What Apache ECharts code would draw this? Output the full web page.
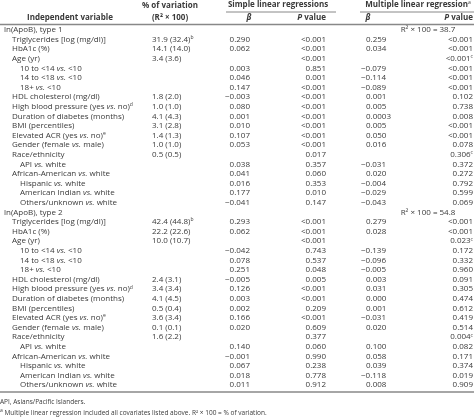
<!DOCTYPE html>
<html>
<head>
<meta charset="utf-8">
<script src="https://cdn.jsdelivr.net/npm/echarts@6/dist/echarts.min.js"></script>
<style>html,body{margin:0;padding:0;background:#fff}#main{width:474px;height:418px}</style>
</head>
<body>
<div id="main"></div>
<script>
// row labels, indent level
var labels = [
    'ln(ApoB), type 1', 'Triglycerides [log (mg/dl)]', 'HbA1c (%)', 'Age (yr)',
    '10 to <14 {i|vs.} <10', '14 to <18 {i|vs.} <10', '18+ {i|vs.} <10',
    'HDL cholesterol (mg/dl)', 'High blood pressure (yes {i|vs.} no){s|d}', 'Duration of diabetes (months)',
    'BMI (percentiles)', 'Elevated ACR (yes {i|vs.} no){s|e}', 'Gender (female {i|vs.} male)', 'Race/ethnicity',
    'API {i|vs.} white', 'African-American {i|vs.} white', 'Hispanic {i|vs.} white',
    'American Indian {i|vs.} white', 'Others/unknown {i|vs.} white',
    'ln(ApoB), type 2', 'Triglycerides [log (mg/dl)]', 'HbA1c (%)', 'Age (yr)',
    '10 to <14 {i|vs.} <10', '14 to <18 {i|vs.} <10', '18+ {i|vs.} <10',
    'HDL cholesterol (mg/dl)', 'High blood pressure (yes {i|vs.} no){s|d}', 'Duration of diabetes (months)',
    'BMI (percentiles)', 'Elevated ACR (yes {i|vs.} no){s|e}', 'Gender (female {i|vs.} male)', 'Race/ethnicity',
    'API {i|vs.} white', 'African-American {i|vs.} white', 'Hispanic {i|vs.} white',
    'American Indian {i|vs.} white', 'Others/unknown {i|vs.} white'
];
var levels = [0,1,1,1,2,2,2,1,1,1,1,1,1,1,2,1,2,2,2, 0,1,1,1,2,2,2,1,1,1,1,1,1,1,2,1,2,2,2];
var pctVar = ['', '31.9 (32.4){s|b}', '14.1 (14.0)', '3.4 (3.6)', '', '', '', '1.8 (2.0)', '1.0 (1.0)', '4.1 (4.3)',
    '3.1 (2.8)', '1.4 (1.3)', '1.0 (1.0)', '0.5 (0.5)', '', '', '', '', '',
    '', '42.4 (44.8){s|b}', '22.2 (22.6)', '10.0 (10.7)', '', '', '', '2.4 (3.1)', '3.4 (3.4)', '4.1 (4.5)',
    '0.5 (0.4)', '3.6 (3.4)', '0.1 (0.1)', '1.6 (2.2)', '', '', '', '', ''];
var betaSimple = ['', '0.290', '0.062', '', '0.003', '0.046', '0.147', '−0.003', '0.080', '0.001',
    '0.010', '0.107', '0.053', '', '0.038', '0.041', '0.016', '0.177', '−0.041',
    '', '0.293', '0.062', '', '−0.042', '0.078', '0.251', '−0.005', '0.126', '0.003',
    '0.002', '0.166', '0.020', '', '0.140', '−0.001', '0.067', '0.018', '0.011'];
var pSimple = ['', '<0.001', '<0.001', '<0.001', '0.851', '0.001', '<0.001', '<0.001', '<0.001', '<0.001',
    '<0.001', '<0.001', '<0.001', '0.017', '0.357', '0.060', '0.353', '0.010', '0.147',
    '', '<0.001', '<0.001', '<0.001', '0.743', '0.537', '0.048', '0.005', '<0.001', '<0.001',
    '0.209', '<0.001', '0.609', '0.377', '0.060', '0.990', '0.238', '0.778', '0.912'];
var betaMultiple = ['', '0.259', '0.034', '', '−0.079', '−0.114', '−0.089', '0.001', '0.005', '0.0003',
    '0.005', '0.050', '0.016', '', '−0.031', '0.020', '−0.004', '−0.029', '−0.043',
    '', '0.279', '0.028', '', '−0.139', '−0.096', '−0.005', '0.003', '0.031', '0.000',
    '0.001', '−0.031', '0.020', '', '0.100', '0.058', '0.039', '−0.118', '0.008'];
var pMultiple = ['R² × 100 = 38.7', '<0.001', '<0.001', '<0.001{s|c}', '<0.001', '<0.001', '<0.001', '0.102', '0.738', '0.008',
    '<0.001', '<0.001', '0.078', '0.306{s|c}', '0.372', '0.272', '0.792', '0.599', '0.069',
    'R² × 100 = 54.8', '<0.001', '<0.001', '0.023{s|c}', '0.172', '0.332', '0.960', '0.091', '0.305', '0.474',
    '0.612', '0.419', '0.514', '0.004{s|c}', '0.082', '0.171', '0.374', '0.019', '0.909'];
var footnotes = ['API, Asians/Pacific Islanders.',
    '{s|a} Multiple linear regression included all covariates listed above. R² × 100 = % of variation.'];

var FONT = '"Open Sans", sans-serif';
var COLOR = '#3a3a3a';
var rich = {
    i: { fontStyle: 'italic', fontSize: 8, fontFamily: FONT, fill: COLOR },
    bi: { fontStyle: 'italic', fontWeight: 'bold', fontSize: 8, fontFamily: FONT, fill: COLOR },
    s: { fontSize: 5, verticalAlign: 'top', padding: [0, 0, 4, 0], fontFamily: FONT, fill: COLOR }
};

function txt(x, y, s, align, extra) {
    var st = { text: s, x: 0, y: 0, fontSize: 8, fontFamily: FONT, fill: COLOR,
        align: align || 'left', verticalAlign: 'middle', rich: rich };
    if (extra) for (var k in extra) st[k] = extra[k];
    return { type: 'text', x: x, y: y, style: st };
}
function hline(x1, x2, y, w, c) {
    return { type: 'line', shape: { x1: x1, y1: y, x2: x2, y2: y }, style: { stroke: c || '#777', lineWidth: w || 1 } };
}

var els = [];
// header
els.push(txt(170, 6, '% of variation', 'center', { fontWeight: 'bold' }));
els.push(txt(170, 18, '(R² × 100)', 'center', { fontWeight: 'bold' }));
els.push(txt(70, 18, 'Independent variable', 'center', { fontWeight: 'bold' }));
els.push(txt(278, 5, 'Simple linear regressions', 'center', { fontWeight: 'bold' }));
els.push(txt(418, 5, 'Multiple linear regression{s|a}', 'center', { fontWeight: 'bold' }));
els.push(hline(226, 336, 12, 1, '#888'));
els.push(hline(360, 474, 12, 1, '#888'));
els.push(txt(249, 18, 'β', 'center', { fontWeight: 'bold', fontStyle: 'italic' }));
els.push(txt(326, 18, '{bi|P} value', 'right', { fontWeight: 'bold' }));
els.push(txt(368, 18, 'β', 'center', { fontWeight: 'bold', fontStyle: 'italic' }));
els.push(txt(473, 18, '{bi|P} value', 'right', { fontWeight: 'bold' }));
els.push(hline(0, 474, 24.5, 1.5, '#888'));

var y0 = 30, dy = 9.6;
labels.forEach(function (lab, i) {
    var y = y0 + i * dy;
    els.push(txt(4 + levels[i] * 8, y, lab, 'left'));
    if (pctVar[i]) els.push(txt(152, y, pctVar[i], 'left'));
    if (betaSimple[i]) els.push(txt(250, y, betaSimple[i], 'right'));
    if (pSimple[i]) els.push(txt(326, y, pSimple[i], 'right'));
    if (betaMultiple[i]) els.push(txt(betaMultiple[i].charAt(0) === '−' ? 361 : 366, y, betaMultiple[i], 'left'));
    if (pMultiple[i]) {
        if (pMultiple[i].indexOf('R²') === 0) els.push(txt(428, y, pMultiple[i], 'center'));
        else els.push(txt(473, y, pMultiple[i], 'right'));
    }
});
els.push(hline(0, 474, 392, 1.5, '#888'));
els.push(txt(0, 402, footnotes[0], 'left', { fontSize: 6.5 }));
els.push(txt(0, 413, footnotes[1], 'left', { fontSize: 6.5 }));

var chart = echarts.init(document.getElementById('main'));
chart.setOption({
    backgroundColor: '#fff',
    graphic: els
});
</script>
</body>
</html>
